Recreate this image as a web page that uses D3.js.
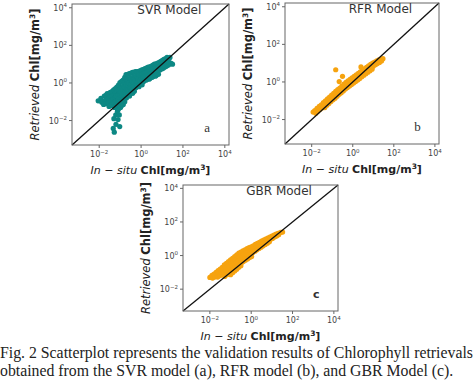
<!DOCTYPE html>
<html>
<head>
<meta charset="utf-8">
<script src="https://cdn.jsdelivr.net/npm/d3@7"></script>
<style>
  body { margin: 0; background: #fff; }
  svg { display: block; }
</style>
</head>
<body>
<div id="chart"></div>
<script>
// log10(in-situ Chl), log10(retrieved Chl)
var svrPoints = [
  [-2.05,-0.95],[-1.92,-0.82],[-1.88,-1.02],[-1.76,-0.7],[-1.74,-0.96],[-1.79,-1.14],
  [-1.68,-0.66],[-1.67,-0.9],[-1.69,-1.1],
  [-1.62,-0.56],[-1.58,-0.84],[-1.6,-1.08],
  [-1.53,-0.55],[-1.52,-0.8],[-1.54,-1.05],[-1.53,-1.25],
  [-1.47,-0.5],[-1.44,-0.74],[-1.46,-0.98],[-1.42,-1.2],
  [-1.38,-0.44],[-1.37,-0.68],[-1.39,-0.92],[-1.38,-1.15],
  [-1.31,-0.36],[-1.28,-0.6],[-1.33,-0.86],[-1.29,-1.06],[-1.27,-1.3],[-1.3,-1.9],[-1.33,-2.42],
  [-1.23,-0.3],[-1.22,-0.54],[-1.24,-0.8],[-1.23,-1.02],[-1.22,-1.25],[-1.21,-1.7],
  [-1.16,-0.22],[-1.14,-0.46],[-1.18,-0.7],[-1.12,-0.94],[-1.17,-1.16],[-1.13,-1.5],[-1.2,-2.2],[-1.28,-2.62],
  [-1.08,-0.12],[-1.07,-0.38],[-1.09,-0.62],[-1.08,-0.86],[-1.07,-1.1],[-1.08,-1.4],[-1.1,-1.95],
  [-1.01,0.02],[-0.99,-0.3],[-1.03,-0.54],[-0.97,-0.8],[-1.02,-1.0],[-0.98,-1.3],[-1.04,-1.7],[-1.02,-2.32],
  [-0.93,0.08],[-0.92,-0.22],[-0.94,-0.48],[-0.93,-0.72],[-0.92,-0.96],[-0.93,-1.2],
  [-0.86,0.15],[-0.84,-0.14],[-0.88,-0.4],[-0.82,-0.64],[-0.87,-0.9],[-0.85,-1.15],
  [-0.78,0.3],[-0.77,0.02],[-0.79,-0.24],[-0.78,-0.5],[-0.77,-0.74],[-0.78,-1.0],
  [-0.72,0.45],[-0.69,0.2],[-0.73,-0.06],[-0.67,-0.3],[-0.71,-0.56],[-0.7,-0.8],
  [-0.63,0.46],[-0.62,0.12],[-0.64,-0.12],[-0.63,-0.38],[-0.62,-0.62],
  [-0.56,0.5],[-0.54,0.24],[-0.58,0.0],[-0.52,-0.2],[-0.57,-0.46],[-0.55,-0.7],
  [-0.48,0.52],[-0.47,0.2],[-0.49,-0.06],[-0.48,-0.28],[-0.47,-0.5],
  [-0.41,0.56],[-0.39,0.3],[-0.43,0.1],[-0.37,-0.1],[-0.42,-0.36],[-0.4,-0.55],
  [-0.33,0.58],[-0.32,0.24],[-0.34,0.02],[-0.33,-0.18],[-0.32,-0.44],
  [-0.26,0.6],[-0.24,0.36],[-0.28,0.14],[-0.22,-0.06],[-0.25,-0.26],
  [-0.18,0.6],[-0.17,0.28],[-0.19,0.06],[-0.18,-0.14],
  [-0.11,0.62],[-0.09,0.4],[-0.13,0.2],[-0.07,0.0],[-0.1,-0.2],
  [-0.03,0.66],[-0.02,0.34],[-0.04,0.12],[-0.03,-0.08],
  [0.04,0.7],[0.06,0.46],[0.02,0.25],[0.08,0.05],[0.05,-0.1],
  [0.12,0.72],[0.13,0.5],[0.11,0.3],[0.12,0.08],
  [0.19,0.76],[0.21,0.55],[0.17,0.34],[0.23,0.15],
  [0.27,0.8],[0.28,0.58],[0.26,0.36],[0.27,0.18],
  [0.34,0.85],[0.36,0.6],[0.32,0.4],[0.38,0.2],
  [0.42,0.86],[0.43,0.64],[0.41,0.44],[0.42,0.24],
  [0.49,0.9],[0.51,0.7],[0.47,0.5],[0.53,0.3],
  [0.57,0.95],[0.58,0.74],[0.56,0.52],[0.57,0.34],
  [0.64,1.0],[0.66,0.8],[0.62,0.56],[0.68,0.36],
  [0.72,1.02],[0.73,0.82],[0.71,0.6],[0.72,0.4],
  [0.79,1.06],[0.81,0.86],[0.77,0.64],[0.83,0.46],
  [0.87,1.1],[0.88,0.9],[0.86,0.68],
  [0.94,1.15],[0.96,0.95],[0.92,0.7],
  [1.02,1.2],[1.03,0.98],[1.01,0.76],
  [1.09,1.25],[1.11,1.04],[1.07,0.8],
  [1.17,1.3],[1.18,1.08],[1.16,0.86],
  [1.24,1.36],[1.26,1.1],[1.22,0.9],
  [1.32,1.3],[1.33,1.1],[1.31,0.95],
  [1.38,1.36],[1.42,1.06],[1.5,1.0]
];

var rfrPoints = [
  [-1.93,-1.6],[-1.85,-1.52],[-1.8,-1.66],[-1.74,-1.4],[-1.7,-1.56],
  [-1.63,-1.3],[-1.6,-1.46],[-1.53,-1.22],[-1.5,-1.38],[-1.43,-1.1],[-1.4,-1.28],
  [-1.33,-1.0],[-1.3,-1.18],[-1.36,-1.36],[-1.23,-0.9],[-1.2,-1.08],[-1.26,-1.24],
  [-1.13,-0.8],[-1.1,-0.98],[-1.16,-1.14],[-1.03,-0.7],[-1.0,-0.88],[-1.06,-1.04],
  [-0.93,-0.6],[-0.9,-0.78],[-0.96,-0.94],[-0.83,-0.5],[-0.8,-0.68],[-0.86,-0.86],[-0.83,0.65],
  [-0.73,-0.4],[-0.7,-0.58],[-0.76,-0.76],[-0.63,-0.32],[-0.6,-0.5],[-0.66,-0.66],[-0.66,0.02],
  [-0.53,-0.22],[-0.5,-0.4],[-0.56,-0.58],[-0.5,0.3],[-0.43,-0.12],[-0.4,-0.3],[-0.46,-0.48],
  [-0.33,-0.02],[-0.3,-0.2],[-0.36,-0.38],[-0.23,0.06],[-0.2,-0.12],[-0.26,-0.3],
  [-0.13,0.14],[-0.1,-0.04],[-0.16,-0.22],[-0.03,0.22],[0.0,0.04],[-0.06,-0.14],
  [0.07,0.3],[0.1,0.12],[0.04,-0.06],[0.17,0.38],[0.2,0.2],[0.14,0.02],
  [0.27,0.46],[0.3,0.28],[0.24,0.1],[0.37,0.54],[0.4,0.36],[0.34,0.18],[0.4,0.8],
  [0.47,0.62],[0.5,0.44],[0.44,0.28],[0.57,0.7],[0.6,0.52],[0.54,0.36],
  [0.67,0.78],[0.7,0.6],[0.64,0.44],[0.77,0.86],[0.8,0.68],[0.74,0.52],
  [0.87,0.94],[0.9,0.76],[0.84,0.6],[0.97,1.0],[1.0,0.84],[0.94,0.68],
  [1.07,1.06],[1.1,0.92],[1.17,1.12],[1.2,0.98],[1.27,1.18],[1.3,1.04],
  [1.37,1.22],[1.4,1.12],[1.47,1.24]
];

var gbrPoints = [
  [-2.0,-1.3],[-1.9,-1.18],[-1.87,-1.34],[-1.8,-1.1],[-1.76,-1.28],[-1.7,-1.0],[-1.66,-1.2],
  [-1.6,-0.9],[-1.57,-1.08],[-1.62,-1.28],[-1.5,-0.8],[-1.47,-1.0],[-1.52,-1.2],
  [-1.4,-0.7],[-1.37,-0.9],[-1.42,-1.12],[-1.3,-0.56],[-1.27,-0.78],[-1.32,-1.0],[-1.28,-1.24],
  [-1.2,-0.46],[-1.17,-0.68],[-1.22,-0.9],[-1.18,-1.14],[-1.1,-0.36],[-1.07,-0.58],[-1.12,-0.8],[-1.08,-1.04],
  [-1.0,-0.26],[-0.97,-0.48],[-1.02,-0.7],[-0.98,-0.92],[-1.0,-1.14],
  [-0.9,-0.16],[-0.87,-0.38],[-0.92,-0.6],[-0.88,-0.82],[-0.9,-1.02],
  [-0.8,-0.06],[-0.77,-0.28],[-0.82,-0.5],[-0.78,-0.72],[-0.8,-0.92],
  [-0.7,0.04],[-0.67,-0.18],[-0.72,-0.4],[-0.68,-0.62],[-0.7,-0.82],
  [-0.6,0.14],[-0.57,-0.08],[-0.62,-0.3],[-0.58,-0.52],[-0.6,-0.7],
  [-0.5,0.2],[-0.47,0.0],[-0.52,-0.22],[-0.48,-0.44],[-0.5,-0.6],
  [-0.4,0.28],[-0.37,0.06],[-0.42,-0.14],[-0.38,-0.36],
  [-0.3,0.34],[-0.27,0.12],[-0.32,-0.08],[-0.28,-0.28],
  [-0.2,0.42],[-0.17,0.2],[-0.22,0.0],[-0.18,-0.2],
  [-0.1,0.48],[-0.07,0.26],[-0.12,0.06],[-0.08,-0.12],
  [0.0,0.52],[0.03,0.32],[-0.02,0.12],[0.02,-0.06],
  [0.1,0.58],[0.13,0.38],[0.08,0.18],[0.2,0.66],[0.23,0.46],[0.18,0.26],
  [0.3,0.72],[0.33,0.52],[0.28,0.34],[0.4,0.78],[0.43,0.6],[0.38,0.42],
  [0.5,0.86],[0.53,0.68],[0.48,0.5],[0.6,0.92],[0.63,0.74],[0.58,0.58],
  [0.7,0.98],[0.73,0.82],[0.68,0.66],[0.8,1.04],[0.83,0.88],[0.78,0.74],
  [0.9,1.1],[0.93,0.96],[0.88,0.82],[1.0,1.16],[1.03,1.02],[1.1,1.22],[1.13,1.1],
  [1.2,1.28],[1.23,1.16],[1.3,1.32],[1.33,1.24],[1.42,1.38],[1.52,1.4]
];

var tickExponents = [-2, 0, 2, 4];
var logDomain = [-3.3, 4.2];
var captionLines = [
  "Fig. 2 Scatterplot represents the validation results of Chlorophyll retrievals",
  "obtained from the SVR model (a), RFR model (b), and GBR Model (c)."
];

var panels = [
  {title: "SVR Model", tag: "a", points: svrPoints, color: "#0d8884", left: 72, top: 4, width: 157, height: 141, tagFont: "serif"},
  {title: "RFR Model", tag: "b", points: rfrPoints, color: "#f6a30f", left: 285, top: 3, width: 154, height: 141, tagFont: "serif"},
  {title: "GBR Model", tag: "c", points: gbrPoints, color: "#f6a30f", left: 183, top: 185, width: 155, height: 126, tagFont: "sans"}
];

var svg = d3.select('#chart').append('svg')
  .attr('width', 474)
  .attr('height', 382);

var sansFont = 'DejaVu Sans, sans-serif';
var serifFont = 'Liberation Serif, Times New Roman, serif';

function powerLabel(sel, e) {
  sel.text('10');
  sel.append('tspan')
    .attr('dy', -3.5)
    .attr('font-size', '5.5px')
    .text(e < 0 ? '\u2212' + Math.abs(e) : String(e));
}

function drawPanel(p) {
  var x = d3.scaleLog()
    .domain(logDomain.map(function(v){ return Math.pow(10, v); }))
    .range([0, p.width]);
  var y = d3.scaleLog()
    .domain(logDomain.map(function(v){ return Math.pow(10, v); }))
    .range([p.height, 0]);

  var g = svg.append('g').attr('transform', 'translate(' + p.left + ',' + p.top + ')');

  // points
  g.append('g').selectAll('circle')
    .data(p.points)
    .enter()
      .append('circle')
        .attr('cx', function(d){ return x(Math.pow(10, d[0])); })
        .attr('cy', function(d){ return y(Math.pow(10, d[1])); })
        .attr('r', 2.6)
        .attr('fill', p.color);

  // 1:1 line
  g.append('line')
    .attr('x1', x(Math.pow(10, logDomain[0])))
    .attr('y1', y(Math.pow(10, logDomain[0])))
    .attr('x2', x(Math.pow(10, logDomain[1])))
    .attr('y2', y(Math.pow(10, logDomain[1])))
    .attr('stroke', '#111')
    .attr('stroke-width', 1.3);

  // frame
  g.append('rect')
    .attr('width', p.width)
    .attr('height', p.height)
    .attr('fill', 'none')
    .attr('stroke', '#666')
    .attr('stroke-width', 1);

  var ticks = tickExponents.map(function(e){ return {e: e, v: Math.pow(10, e)}; });

  var xt = g.append('g').selectAll('g')
    .data(ticks)
    .enter().append('g')
      .attr('transform', function(d){ return 'translate(' + x(d.v) + ',' + p.height + ')'; });
  xt.append('line').attr('y2', 3).attr('stroke', '#666');
  xt.append('text')
    .attr('y', 12)
    .attr('text-anchor', 'middle')
    .attr('font-family', sansFont)
    .attr('font-size', '8px')
    .attr('fill', '#444')
    .each(function(d){ powerLabel(d3.select(this), d.e); });

  var yt = g.append('g').selectAll('g')
    .data(ticks)
    .enter().append('g')
      .attr('transform', function(d){ return 'translate(0,' + y(d.v) + ')'; });
  yt.append('line').attr('x2', -3).attr('stroke', '#666');
  yt.append('text')
    .attr('x', -5)
    .attr('y', 3)
    .attr('text-anchor', 'end')
    .attr('font-family', sansFont)
    .attr('font-size', '8px')
    .attr('fill', '#444')
    .each(function(d){ powerLabel(d3.select(this), d.e); });

  // title
  g.append('text')
    .attr('x', p.width * 0.62)
    .attr('y', 10)
    .attr('text-anchor', 'middle')
    .attr('font-family', sansFont)
    .attr('font-size', '12px')
    .attr('fill', '#333')
    .text(p.title);

  // panel tag
  g.append('text')
    .attr('x', p.width * 0.86)
    .attr('y', p.height - 13)
    .attr('text-anchor', 'middle')
    .attr('font-family', p.tagFont == 'serif' ? serifFont : sansFont)
    .attr('font-weight', p.tagFont == 'serif' ? 'normal' : 'bold')
    .attr('font-size', p.tagFont == 'serif' ? '13px' : '11px')
    .attr('fill', '#333')
    .text(p.tag);

  // axis labels
  var xl = g.append('text')
    .attr('x', p.width / 2)
    .attr('y', p.height + 29)
    .attr('text-anchor', 'middle')
    .attr('font-family', sansFont)
    .attr('font-size', '11px')
    .attr('fill', '#222');
  xl.append('tspan').attr('font-style', 'italic').text('In \u2212 situ ');
  xl.append('tspan').attr('font-weight', 'bold').text('Chl[mg/m');
  xl.append('tspan').attr('font-weight', 'bold').attr('font-size', '7.5px').attr('dy', -4.5).text('3');
  xl.append('tspan').attr('font-weight', 'bold').attr('dy', 4.5).text(']');

  var yl = g.append('text')
    .attr('transform', 'translate(' + (-33) + ',' + (p.height / 2) + ') rotate(-90)')
    .attr('text-anchor', 'middle')
    .attr('font-family', sansFont)
    .attr('font-size', '11.5px')
    .attr('fill', '#222');
  yl.append('tspan').attr('font-style', 'italic').text('Retrieved ');
  yl.append('tspan').attr('font-weight', 'bold').text('Chl[mg/m');
  yl.append('tspan').attr('font-weight', 'bold').attr('font-size', '7.5px').attr('dy', -4.5).text('3');
  yl.append('tspan').attr('font-weight', 'bold').attr('dy', 4.5).text(']');
}

panels.forEach(drawPanel);

// caption
svg.append('g').selectAll('text')
  .data(captionLines)
  .enter()
    .append('text')
      .attr('x', 0)
      .attr('y', function(d, i){ return 358 + i * 18; })
      .attr('font-family', serifFont)
      .attr('font-size', '15.8px')
      .attr('fill', '#222')
      .text(function(d){ return d; });
</script>
</body>
</html>
